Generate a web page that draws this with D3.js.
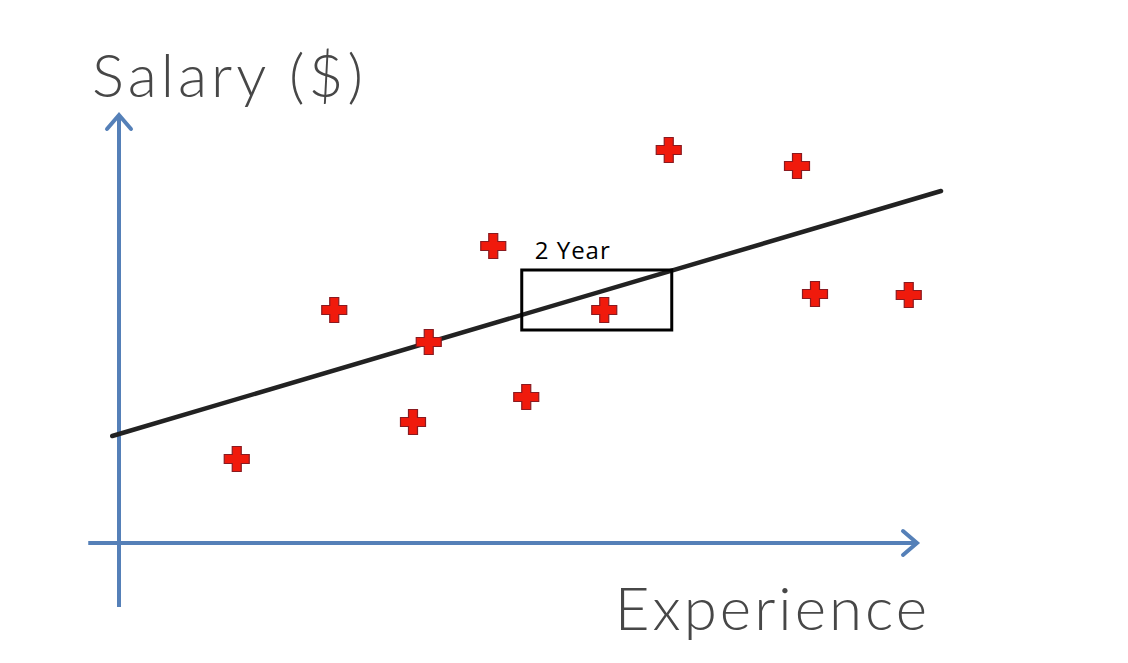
<!DOCTYPE html>
<html>
<head>
<meta charset="utf-8">
<script src="https://cdn.jsdelivr.net/npm/d3@7"></script>
<style>
  body { margin: 0; background: #fff; }
  svg { display: block; }
</style>
</head>
<body>
<svg width="1128" height="663"></svg>
<script>
// years of experience / salary (k$)
var experience = [1.57, 2.87, 3.92, 4.13, 4.99, 5.43, 6.47, 7.33, 9.04, 9.28, 10.53];
var salary = [16.8, 46.6, 24.2, 40.2, 59.4, 29.2, 46.6, 78.6, 75.4, 49.8, 49.6];
var fitLine = [[-0.09, 21.4], [10.96, 70.4]];
var windowYears = [5.37, 7.37];
var windowSalary = [42.6, 54.6];

var svg = d3.select("svg");

var x = d3.scaleLinear().domain([0, 11]).range([119, 944]);
var y = d3.scaleLinear().domain([0, 85]).range([543, 118]);

var axisColor = "#5580b8";

// axes with chevron arrows
svg.append("line")
  .attr("x1", x(-0.41)).attr("x2", x(10.64))
  .attr("y1", y(0)).attr("y2", y(0))
  .attr("stroke", axisColor).attr("stroke-width", 4);
svg.append("path")
  .attr("d", "M" + (x(10.64) - 14) + "," + (y(0) - 12) + "L" + x(10.64) + "," + y(0) + "L" + (x(10.64) - 14) + "," + (y(0) + 12))
  .attr("fill", "none").attr("stroke", axisColor).attr("stroke-width", 4).attr("stroke-linecap", "round");

svg.append("line")
  .attr("x1", x(0)).attr("x2", x(0))
  .attr("y1", y(-12.8)).attr("y2", y(85.6))
  .attr("stroke", axisColor).attr("stroke-width", 4);
svg.append("path")
  .attr("d", "M" + (x(0) - 12) + "," + (y(85.6) + 14) + "L" + x(0) + "," + y(85.6) + "L" + (x(0) + 12) + "," + (y(85.6) + 14))
  .attr("fill", "none").attr("stroke", axisColor).attr("stroke-width", 4).attr("stroke-linecap", "round");

// axis titles
svg.append("text")
  .attr("x", 92).attr("y", 97)
  .attr("font-family", "Lato, 'Open Sans', sans-serif")
  .attr("font-weight", 300)
  .attr("font-size", 60)
  .attr("letter-spacing", 4)
  .attr("fill", "#474747")
  .text("Salary ($)");

svg.append("text")
  .attr("x", 930).attr("y", 630)
  .attr("text-anchor", "end")
  .attr("font-family", "Lato, 'Open Sans', sans-serif")
  .attr("font-weight", 300)
  .attr("font-size", 60)
  .attr("letter-spacing", 3)
  .attr("fill", "#474747")
  .text("Experience");

// regression line
svg.append("line")
  .attr("x1", x(fitLine[0][0])).attr("y1", y(fitLine[0][1]))
  .attr("x2", x(fitLine[1][0])).attr("y2", y(fitLine[1][1]))
  .attr("stroke", "#222").attr("stroke-width", 4.5).attr("stroke-linecap", "round");

// 2 year window
svg.append("rect")
  .attr("x", x(windowYears[0])).attr("y", y(windowSalary[1]))
  .attr("width", x(windowYears[1]) - x(windowYears[0]))
  .attr("height", y(windowSalary[0]) - y(windowSalary[1]))
  .attr("fill", "none").attr("stroke", "#000").attr("stroke-width", 3);

svg.append("text")
  .attr("x", x(windowYears[0]) + 13).attr("y", y(windowSalary[1]) - 11)
  .attr("font-family", "'Open Sans', sans-serif")
  .attr("font-size", 24)
  .attr("letter-spacing", 1)
  .attr("fill", "#000")
  .text("2 Year");

// plus markers
var plus = "M-4.5,-12.5H4.5V-4.5H12.5V4.5H4.5V12.5H-4.5V4.5H-12.5V-4.5H-4.5Z";
svg.append("g").selectAll("path")
  .data(experience)
  .enter().append("path")
  .attr("transform", function(d, i) { return "translate(" + x(d) + "," + y(salary[i]) + ")"; })
  .attr("d", plus)
  .attr("fill", "#f01a0c")
  .attr("stroke", "#8a1a20")
  .attr("stroke-width", 1.2);
</script>
</body>
</html>
